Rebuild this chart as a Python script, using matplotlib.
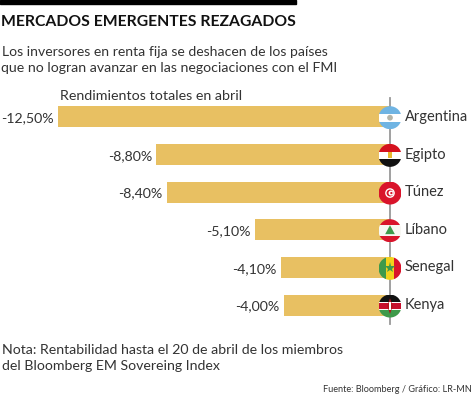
import matplotlib
matplotlib.use("Agg")
import matplotlib.pyplot as plt
from matplotlib.patches import Circle, Rectangle, Polygon

paises = ["Argentina", "Egipto", "Túnez", "Líbano", "Senegal", "Kenya"]
rendimientos = [-12.50, -8.80, -8.40, -5.10, -4.10, -4.00]
etiquetas = ["-12,50%", "-8,80%", "-8,40%", "-5,10%", "-4,10%", "-4,00%"]

W, H = 474, 395
plt.rcParams['font.family'] = ['Lato', 'DejaVu Sans']
TXT = '#333333'

fig = plt.figure(figsize=(W / 100, H / 100), dpi=100)

#pasar de pixeles a fraccion de figura
def fx(x):
    return x / W
def fy(y):
    return 1 - y / H

#barra negra y textos
fig.patches.append(Rectangle((0, fy(4)), fx(296), 4 / H, transform=fig.transFigure, color='black'))
fig.text(fx(1), fy(21.5), "MERCADOS EMERGENTES REZAGADOS", fontsize=11.3, fontweight='bold', color='#111111', va='center')
fig.text(fx(2), fy(51.5), "Los inversores en renta fija se deshacen de los países", fontsize=10.1, color=TXT, va='center')
fig.text(fx(1), fy(67.5), "que no logran avanzar en las negociaciones con el FMI", fontsize=10.2, color=TXT, va='center')
fig.text(fx(60), fy(95.5), "Rendimientos totales en abril", fontsize=10.3, color=TXT, va='center')
fig.text(fx(2), fy(350), "Nota: Rentabilidad hasta el 20 de abril de los miembros", fontsize=10.2, color=TXT, va='center')
fig.text(fx(2), fy(366), "del Bloomberg EM Sovereing Index", fontsize=10.2, color=TXT, va='center')
fig.text(fx(472), fy(389.5), "Fuente: Bloomberg / Gráfico: LR-MN", fontsize=6.6, color=TXT, va='center', ha='right')

#grafico de barras
ax = fig.add_axes([fx(58), fy(324), fx(332), 226 / H])
y = list(range(len(paises)))
ax.barh(y, rendimientos, height=0.56, color='#E8C062')
ax.set_xlim(-12.5, 0)
ax.set_ylim(5.5, -0.5)
ax.axis('off')
ax.plot([0, 0], [-0.5, 5.5], color='#999999', lw=1.3, clip_on=False)
for i in y:
    ax.annotate(etiquetas[i], (rendimientos[i], i), xytext=(-3, -1), textcoords='offset points',
                ha='right', va='center', fontsize=10.2, color=TXT, annotation_clip=False)
    ax.annotate(paises[i], (0, i), xytext=(10.5, 0), textcoords='offset points',
                ha='left', va='center', fontsize=10.5, color=TXT, annotation_clip=False)

#banderas
def franjas_h(a, colores, pesos):
    total = sum(pesos)
    top = 1.0
    for c, p in zip(colores, pesos):
        h = 2 * p / total
        a.add_patch(Rectangle((-1, top - h), 2, h, color=c, lw=0))
        top -= h

def argentina(a):
    franjas_h(a, ['#6FB4E3', 'white', '#6FB4E3'], [1, 1, 1])
    a.add_patch(Circle((0, 0), 0.25, color='#B5B5A8', lw=0))

def egipto(a):
    franjas_h(a, ['#D5121E', 'white', '#111111'], [1, 1, 1])
    a.add_patch(Rectangle((-0.2, -0.25), 0.4, 0.5, color='#E8B92E', lw=0))

def tunez(a):
    franjas_h(a, ['#D9142B'], [1])
    a.add_patch(Circle((0, 0), 0.42, color='white', lw=0))
    a.add_patch(Circle((0, 0), 0.3, color='#D9142B', lw=0))
    a.add_patch(Circle((0.09, 0), 0.22, color='white', lw=0))
    a.add_patch(Circle((0.12, 0), 0.1, color='#D9142B', lw=0))

def libano(a):
    franjas_h(a, ['#D9142B', '#F7F7F2', '#D9142B'], [1, 2, 1])
    a.add_patch(Polygon([(0, 0.48), (0.42, -0.3), (-0.42, -0.3)], color='#3E9A4A', lw=0))

def senegal(a):
    a.add_patch(Rectangle((-1, -1), 0.67, 2, color='#3E9A4A', lw=0))
    a.add_patch(Rectangle((-0.33, -1), 0.67, 2, color='#F2D21C', lw=0))
    a.add_patch(Rectangle((0.34, -1), 0.67, 2, color='#D9142B', lw=0))
    a.plot([0], [0], marker='*', ms=8, color='#3E9A4A', mew=0)

def kenya(a):
    franjas_h(a, ['#111111', 'white', '#C8102E', 'white', '#3E9A4A'], [6, 1, 5, 1, 6])
    a.add_patch(Polygon([(0, 0.68), (0.24, 0), (0, -0.68), (-0.24, 0)], color='#B5121B', lw=0))
    a.add_patch(Rectangle((-0.05, -0.35), 0.1, 0.7, color='white', lw=0))

dibujos = [argentina, egipto, tunez, libano, senegal, kenya]
R = 11.5
for i, dibuja in enumerate(dibujos):
    cy = 117.7 + i * 37.67
    a = fig.add_axes([fx(390 - R), fy(cy + R), 2 * R / W, 2 * R / H])
    a.set_xlim(-1, 1)
    a.set_ylim(-1, 1)
    a.axis('off')
    dibuja(a)
    recorte = Circle((0, 0), 1, transform=a.transData)
    for art in a.patches + a.lines:
        art.set_clip_path(recorte)

plt.savefig('out.png', dpi=100)
